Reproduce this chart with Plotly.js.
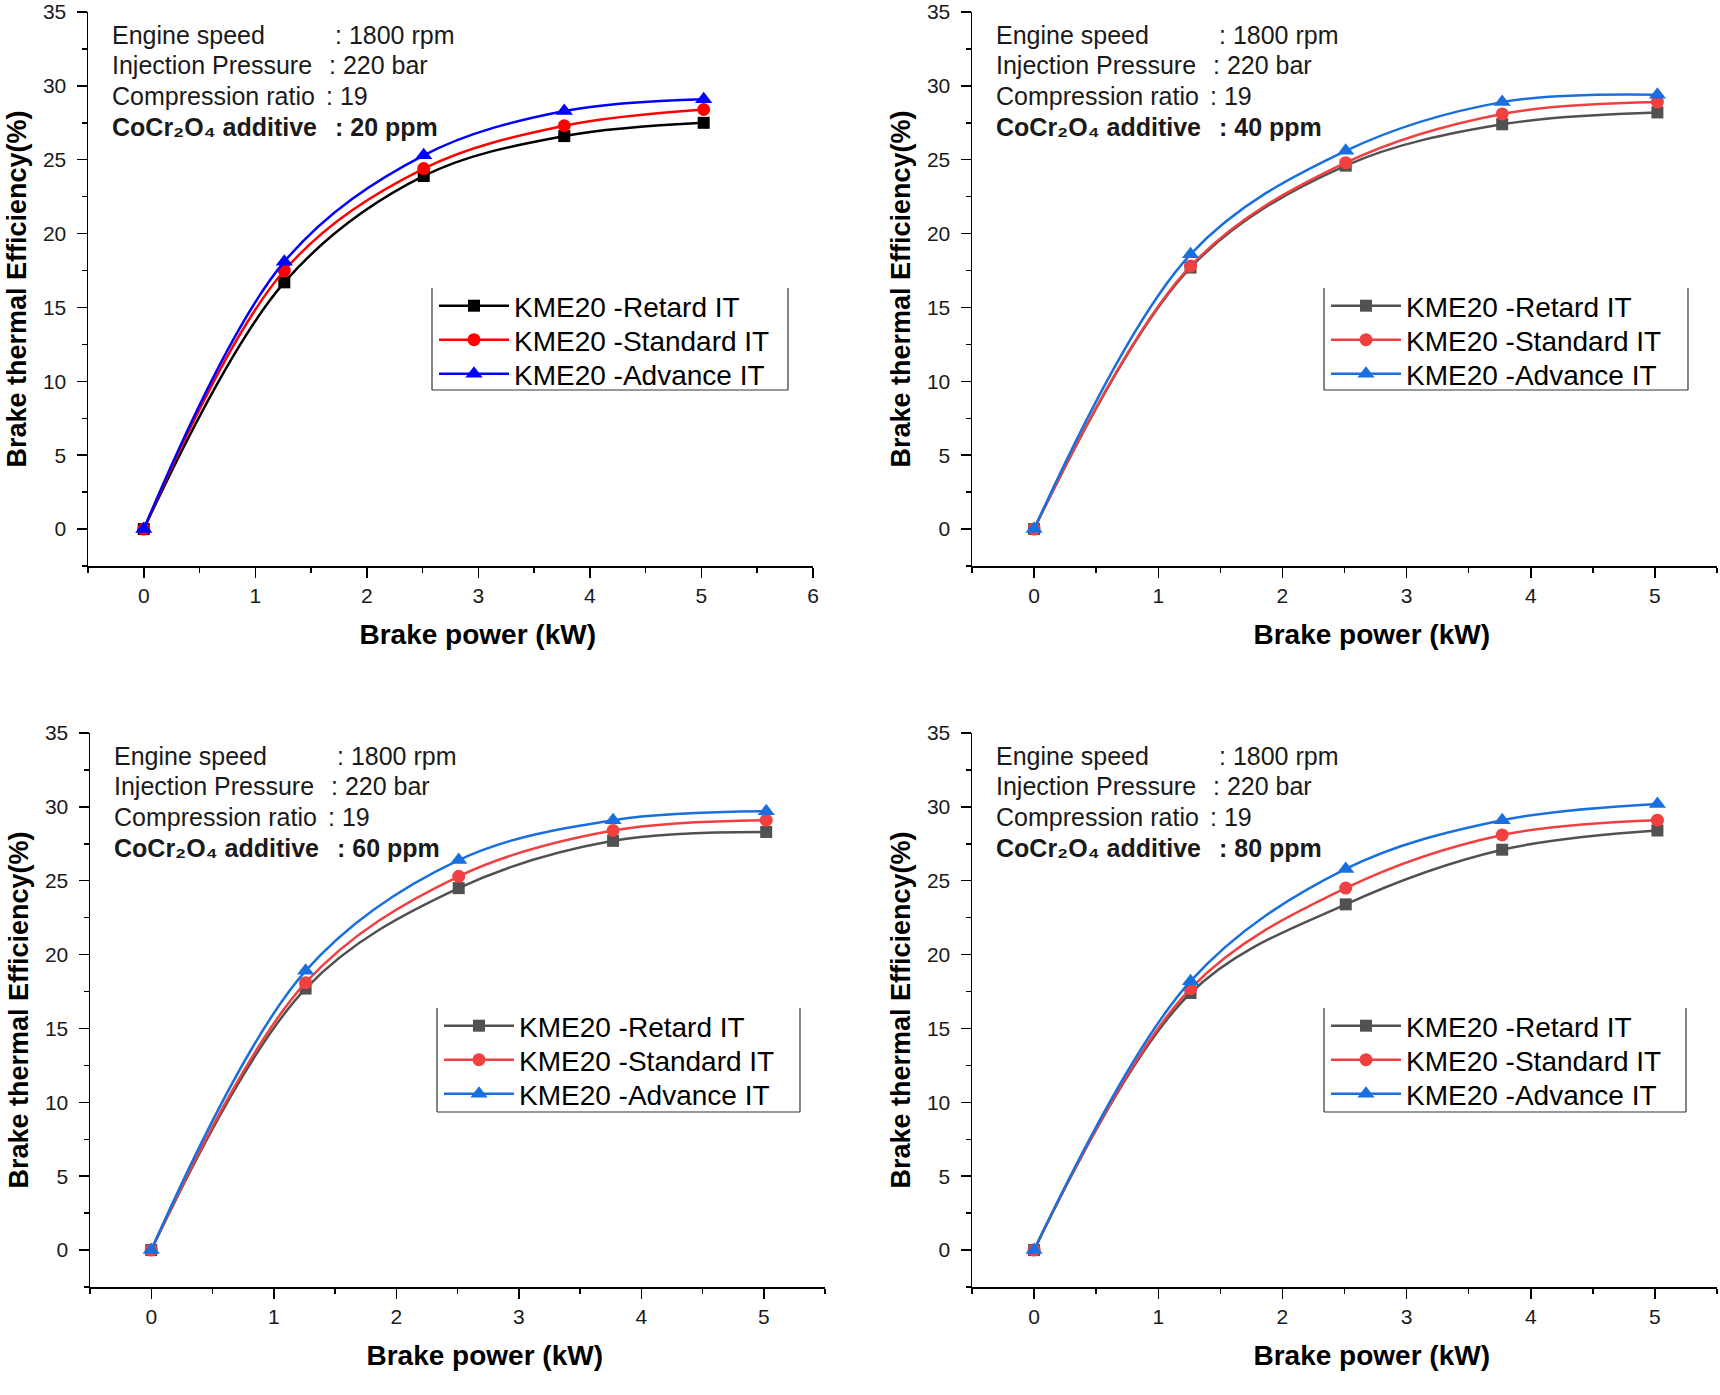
<!DOCTYPE html>
<html>
<head>
<meta charset="utf-8">
<script src="https://cdn.plot.ly/plotly-3.0.1.min.js"></script>
<style>
  html, body { margin: 0; padding: 0; background: #ffffff; }
  #chart { width: 1720px; height: 1395px; }
</style>
</head>
<body>
<div id="chart"></div>
<script>
// Brake power (kW) at each load step
const power = [0, 1.26, 2.51, 3.77, 5.02];

// CoCr2O4 additive dosage of each panel (ppm)
const ppmLevels = [20, 40, 60, 80];

const seriesNames = ['KME20 -Retard IT', 'KME20 -Standard IT', 'KME20 -Advance IT'];

// Brake thermal efficiency (%) — 20 ppm
const bte20Retard   = [0, 16.7, 23.9, 26.6, 27.5];
const bte20Standard = [0, 17.5, 24.4, 27.3, 28.4];
const bte20Advance  = [0, 18.1, 25.3, 28.3, 29.1];

// 40 ppm
const bte40Retard   = [0, 17.7, 24.6, 27.4, 28.2];
const bte40Standard = [0, 17.8, 24.8, 28.1, 28.9];
const bte40Advance  = [0, 18.6, 25.6, 28.9, 29.4];

// 60 ppm
const bte60Retard   = [0, 17.7, 24.5, 27.7, 28.3];
const bte60Standard = [0, 18.1, 25.3, 28.4, 29.1];
const bte60Advance  = [0, 18.9, 26.4, 29.1, 29.7];

// 80 ppm
const bte80Retard   = [0, 17.4, 23.4, 27.1, 28.4];
const bte80Standard = [0, 17.7, 24.5, 28.1, 29.1];
const bte80Advance  = [0, 18.2, 25.8, 29.1, 30.2];

// Operating-condition notes printed in each panel
const infoLabels = ['Engine speed', 'Injection Pressure', 'Compression ratio',
                    'CoCr\u2082O\u2084 additive'];
const infoValues = [': 1800 rpm', ': 220 bar', ': 19'];

// Axis titles (the x title carries leading no-break spaces to sit right of the axis centre)
const xTitle = '&nbsp;&nbsp;&nbsp;&nbsp;&nbsp;&nbsp;&nbsp;Brake power (kW)';
const yTitle = 'Brake thermal Efficiency(%)';
const yTickVals = [0, 5, 10, 15, 20, 25, 30, 35];

// ---------------------------------------------------------------------------
const panelData = [
  [bte20Retard, bte20Standard, bte20Advance],
  [bte40Retard, bte40Standard, bte40Advance],
  [bte60Retard, bte60Standard, bte60Advance],
  [bte80Retard, bte80Standard, bte80Advance]
];

const W = 1720, H = 1395;
const px = v => v / W;
const py = v => 1 - v / H;

const FONT = '"Liberation Sans", Arial, "DejaVu Sans", sans-serif';
const INK = '#1a1a1a';

const classicColors = ['#000000', '#ff0000', '#0000ff'];
const brightColors  = ['#515151', '#f14040', '#1a6fdf'];
const symbols = ['square', 'circle', 'triangle-up'];
const symbolSizes = [12, 13, 15];

// Plot-area geometry in pixels
const panels = [
  { left: 88,  right: 813,  top: 12,  bottom: 566,  xmax: 6,   colors: classicColors, legend: [432, 788, 288, 390] },
  { left: 972, right: 1717, top: 12,  bottom: 566,  xmax: 5.5, colors: brightColors,  legend: [1324, 1688, 288, 390] },
  { left: 90,  right: 825,  top: 733, bottom: 1287, xmax: 5.5, colors: brightColors,  legend: [437, 800, 1008, 1112] },
  { left: 972, right: 1717, top: 733, bottom: 1287, xmax: 5.5, colors: brightColors,  legend: [1324, 1686, 1008, 1112] }
];

// Horizontal offsets of the ":" column relative to each note's start
const valueOffsets = [223, 217, 214, 223];
const lineOffsets = [23, 53, 83.5, 115];
// Legend row centres below the top of the legend frame
const legendRows = [18, 52, 86];

const traces = [];
const layout = {
  width: W, height: H, autosize: false,
  margin: { l: 0, r: 0, t: 0, b: 0, pad: 0 },
  paper_bgcolor: '#ffffff', plot_bgcolor: '#ffffff',
  font: { family: FONT, color: INK },
  showlegend: true,
  annotations: [], shapes: []
};

panels.forEach((p, i) => {
  const n = i + 1;
  const xa = n === 1 ? 'xaxis' : 'xaxis' + n;
  const ya = n === 1 ? 'yaxis' : 'yaxis' + n;
  const xref = n === 1 ? 'x' : 'x' + n;
  const yref = n === 1 ? 'y' : 'y' + n;
  const [lL, lR, lT, lB] = p.legend;

  panelData[i].forEach((vals, s) => {
    // one legend per row so the rows can follow the framed key's spacing
    const li = i * 3 + s + 1;
    const legendKey = li === 1 ? 'legend' : 'legend' + li;
    traces.push({
      type: 'scatter', mode: 'lines+markers',
      x: power, y: vals, name: seriesNames[s],
      xaxis: xref, yaxis: yref, legend: legendKey, showlegend: true,
      line: { color: p.colors[s], width: 2.5, shape: 'spline', smoothing: 1 },
      marker: { symbol: symbols[s], size: symbolSizes[s], color: p.colors[s], line: { width: 0 } },
      cliponaxis: false
    });
    layout[legendKey] = {
      visible: true,
      x: px(lL + 2), y: py(lT + legendRows[s]), xanchor: 'left', yanchor: 'middle',
      xref: 'paper', yref: 'paper',
      bgcolor: 'rgba(255,255,255,0)', borderwidth: 0,
      font: { family: FONT, size: 28, color: '#000' },
      itemwidth: 70, tracegroupgap: 0
    };
  });

  const common = {
    showline: true, linecolor: '#000', linewidth: 1.5, mirror: false,
    ticks: 'outside', ticklen: 10, tickwidth: 1.5, tickcolor: '#000',
    showgrid: false, zeroline: false, automargin: false, fixedrange: true,
    tickfont: { family: FONT, size: 21, color: INK }
  };

  layout[xa] = Object.assign({}, common, {
    domain: [px(p.left), px(p.right)], anchor: yref,
    range: [-0.5, p.xmax], tickmode: 'linear', tick0: 0, dtick: 1,
    ticklabelstandoff: 0,
    minor: { dtick: 0.5, tick0: 0, ticks: 'outside', ticklen: 5, tickwidth: 1.5, tickcolor: '#000', showgrid: false },
    title: { text: xTitle, font: { family: FONT, size: 28, color: '#000', weight: 'bold' }, standoff: 18 }
  });

  layout[ya] = Object.assign({}, common, {
    domain: [py(p.bottom), py(p.top)], anchor: xref,
    range: [-2.5, 35], tickmode: 'array', tickvals: yTickVals,
    ticklabelstandoff: 6,
    minor: { dtick: 2.5, tick0: 0, ticks: 'outside', ticklen: 5, tickwidth: 1.5, tickcolor: '#000', showgrid: false },
    title: { text: yTitle, font: { family: FONT, size: 27, color: '#000', weight: 'bold' }, standoff: 8 }
  });

  // Legend frame, open at the top
  const edge = { type: 'line', xref: 'paper', yref: 'paper', line: { color: '#333', width: 1.2 } };
  layout.shapes.push(Object.assign({}, edge, { x0: px(lL), x1: px(lL), y0: py(lT), y1: py(lB) }));
  layout.shapes.push(Object.assign({}, edge, { x0: px(lL), x1: px(lR), y0: py(lB), y1: py(lB) }));
  layout.shapes.push(Object.assign({}, edge, { x0: px(lR), x1: px(lR), y0: py(lB), y1: py(lT) }));

  // Operating-condition notes
  const labelX = p.left + 22;
  const values = infoValues.concat([': ' + ppmLevels[i] + ' ppm']);
  infoLabels.forEach((lab, k) => {
    const yy = p.top + lineOffsets[k];
    const bold = k === 3;
    const f = { family: FONT, size: 25, color: INK, weight: bold ? 'bold' : 'normal' };
    layout.annotations.push({
      xref: 'paper', yref: 'paper', x: px(labelX), y: py(yy),
      xanchor: 'left', yanchor: 'middle', showarrow: false,
      text: lab, font: f
    });
    layout.annotations.push({
      xref: 'paper', yref: 'paper', x: px(labelX + valueOffsets[k]), y: py(yy),
      xanchor: 'left', yanchor: 'middle', showarrow: false,
      text: values[k], font: f
    });
  });
});

Plotly.newPlot('chart', traces, layout, { displayModeBar: false, responsive: false, staticPlot: true });
</script>
</body>
</html>
